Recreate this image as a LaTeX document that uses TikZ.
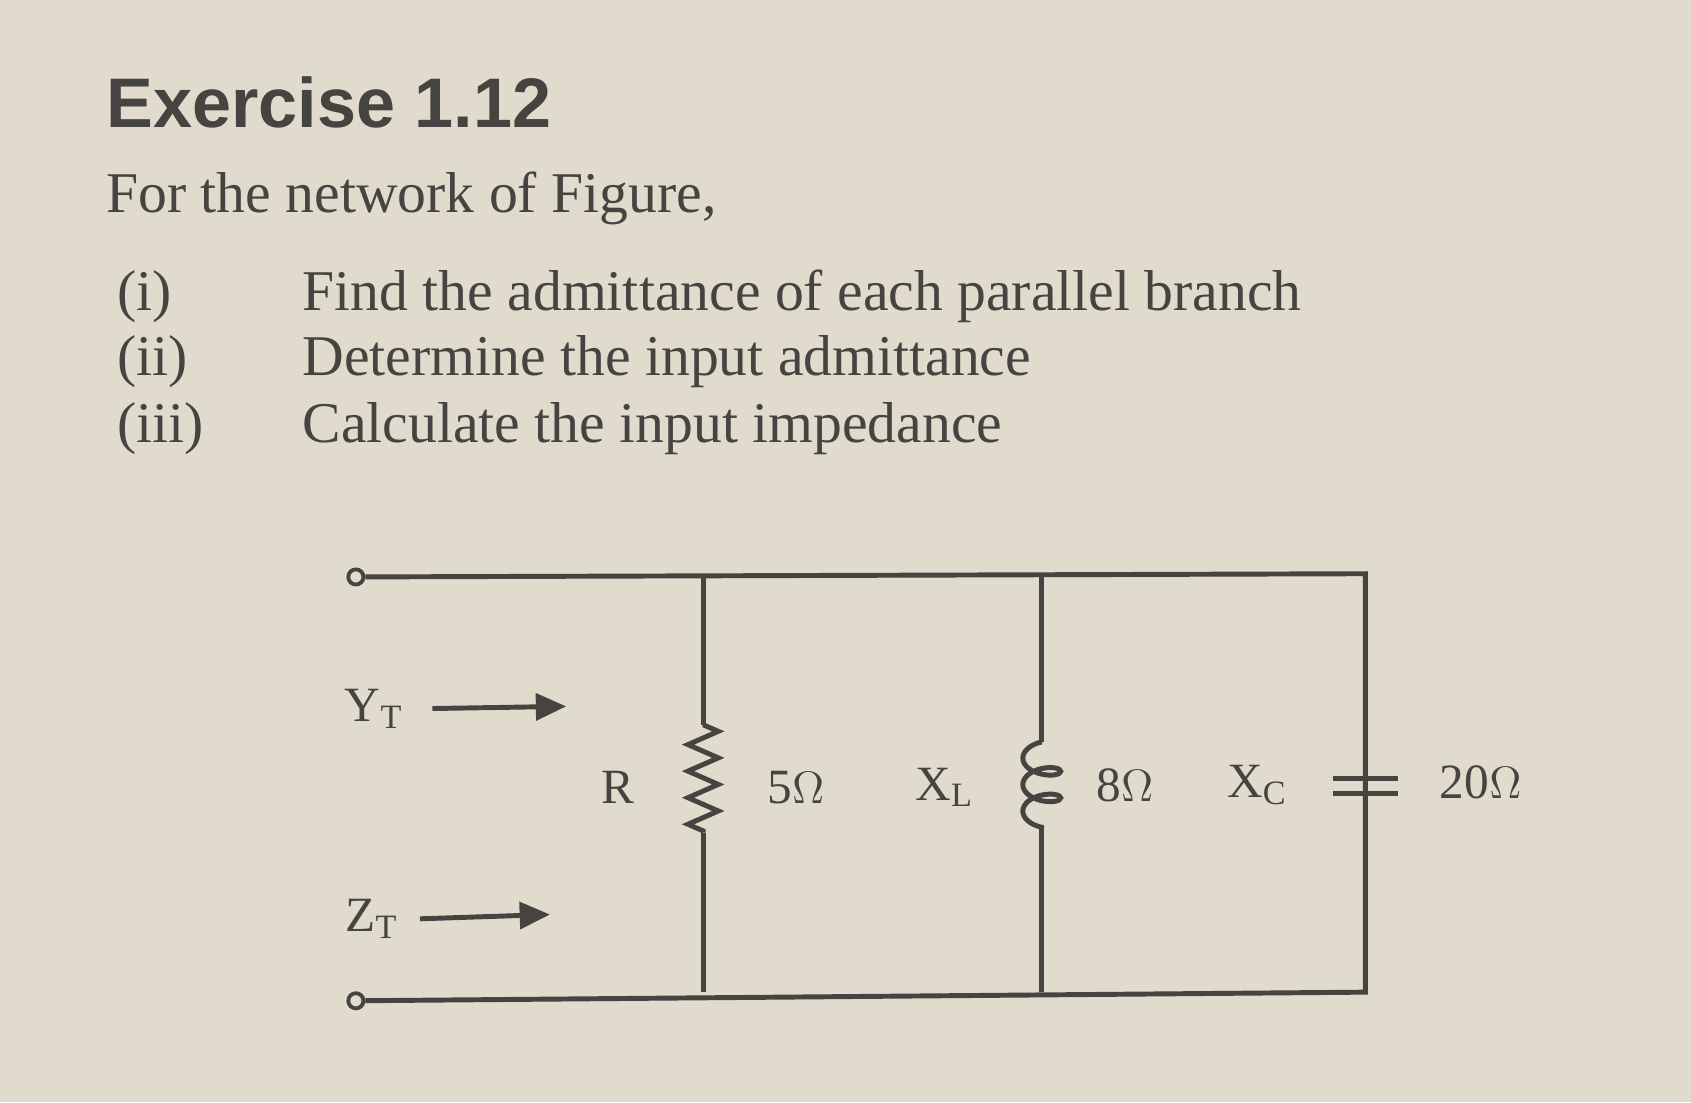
\documentclass[tikz,border=0pt]{standalone}
\usepackage{fontspec}
\setmainfont{Liberation Serif}
\newfontfamily\titlefont{Liberation Sans}
\usetikzlibrary{decorations.pathmorphing,arrows.meta}
\definecolor{bg}{RGB}{224,219,204}
\definecolor{ink}{RGB}{70,68,64}
\newcommand{\mysub}[1]{\raisebox{-0.3ex}{\fontsize{9}{10}\selectfont #1}}
\tikzset{
  txt/.style={anchor=base west,inner sep=0pt,text=ink,font=\fontsize{15.2}{18}\selectfont},
  lbl/.style={inner sep=0pt,text=ink,font=\fontsize{13}{15}\selectfont},
  wire/.style={draw=ink,line width=1.3pt},
  term/.style={circle,draw=ink,line width=1pt,inner sep=0pt,minimum size=4pt,fill=bg},
  arr/.style={draw=ink,line width=1.3pt,-{Triangle[length=8pt,width=7pt]}}
}
\begin{document}
\begin{tikzpicture}[x=0.01cm,y=-0.01cm]
\fill[bg] (0,0) rectangle (1568,1022);
\useasboundingbox (0,0) rectangle (1568,1022);
\node[txt,font=\titlefont\bfseries\fontsize{18.5}{22}\selectfont] (title) at (98,118) {Exercise 1.12};
\node[txt] (intro) at (98,197) {For the network of Figure,};
\node[txt] (i1) at (108,288) {(i)};
\node[txt] (i2) at (108,348) {(ii)};
\node[txt] (i3) at (108,410) {(iii)};
\node[txt] (t1) at (280,288) {Find the admittance of each parallel branch};
\node[txt] (t2) at (280,348) {Determine the input admittance};
\node[txt] (t3) at (280,410) {Calculate the input impedance};
% circuit
\node[term] (a) at (330,535) {};
\node[term] (b) at (330,928) {};
\coordinate (r1) at (652,532); \coordinate (r2) at (652,920);
\coordinate (l1) at (966,532); \coordinate (l2) at (966,920);
\coordinate (c1) at (1266,532); \coordinate (c2) at (1266,920);
\draw[wire] (a) -- (c1) -- (c2) -- (b);
\draw[wire] (r1) -- (652,672);
\draw[wire,decorate,decoration={zigzag,segment length=7pt,amplitude=4pt}] (652,672) -- (652,772);
\draw[wire] (652,772) -- (r2);
\draw[wire] (l1) -- (966,688);
\draw[wire,decorate,decoration={coil,aspect=0.5,segment length=7pt,amplitude=5pt,mirror}] (966,688) -- (966,768);
\draw[wire] (966,768) -- (l2);
\draw[wire] (c1) -- (1266,722); \draw[wire] (1266,736) -- (c2);
\draw[wire] (1236,722) -- (1296,722);
\draw[wire] (1236,736) -- (1296,736);
\node[lbl] (lR) at (573,730) {R};
\node[lbl] (l5) at (738,730) {5$\Omega$};
\node[lbl] (lXL) at (875,730) {X\mysub{L}};
\node[lbl] (l8) at (1043,728) {8$\Omega$};
\node[lbl] (lXC) at (1165,728) {X\mysub{C}};
\node[lbl] (l20) at (1373,725) {20$\Omega$};
\node[lbl] (YT) at (346,657) {Y\mysub{T}};
\node[lbl] (ZT) at (344,852) {Z\mysub{T}};
\coordinate (ye) at (525,655); \coordinate (ze) at (510,848);
\draw[arr] (YT.east) ++(8pt,0) coordinate (ys) (ys) -- (ye);
\draw[arr] (ZT.east) ++(6pt,0) coordinate (zs) (zs) -- (ze);
\end{tikzpicture}
\end{document}
